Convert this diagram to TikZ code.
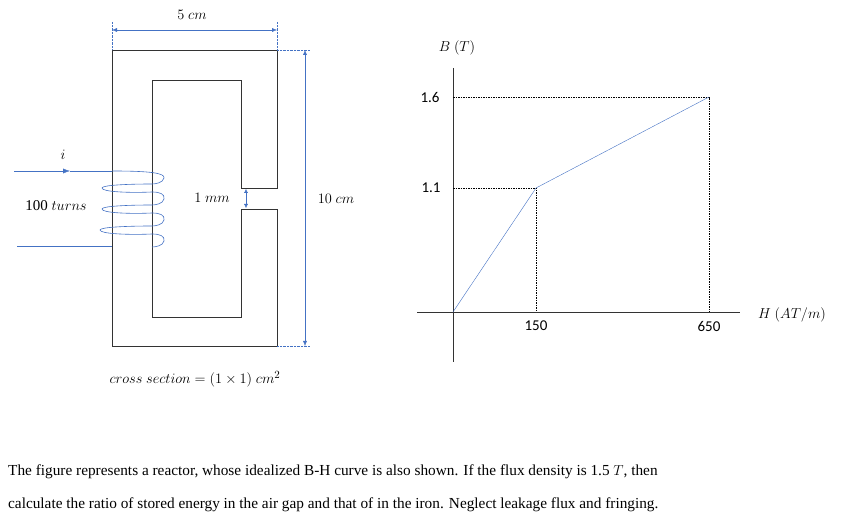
\documentclass[tikz,border=0pt]{standalone}
\usepackage{fontspec}
\setmainfont{Liberation Serif}
\newfontfamily\calfnt{Carlito}
\usetikzlibrary{arrows.meta}
\definecolor{bl}{RGB}{68,114,196}
\tikzset{dim/.style={bl,{Latex[length=5pt,width=4pt]}-{Latex[length=5pt,width=4pt]}},
ext/.style={bl,densely dotted},
lbl/.style={font=\fontsize{15}{18}\selectfont,inner sep=0pt},
num/.style={font=\calfnt\fontsize{15}{18}\selectfont,inner sep=0pt},
dl/.style={black,densely dashed,dash pattern=on 1.5pt off 1pt}}
\begin{document}
\begin{tikzpicture}[x=1pt,y=-1pt]
\useasboundingbox (0,0) rectangle (852,521);
% core
\draw[black!80,line width=0.8pt] (112,50)--(277,50)--(277,188)--(241,188)--(241,80)--(152,80)--(152,317)--(241,317)--(241,209)--(277,209)--(277,346)--(112,346)--cycle;
% dims
\coordinate (a1) at (112,30); \coordinate (a2) at (277,30);
\draw[dim] (a1)--(a2);
\draw[ext] (112,22)--(112,50) (277,22)--(277,50);
\node[lbl] (w) at (192,15) {$5\ cm$};
\coordinate (b1) at (305,50); \coordinate (b2) at (305,346);
\draw[dim] (b1)--(b2);
\draw[ext] (277,50)--(310,50) (277,346)--(310,346);
\node[lbl] (h) at (336,199) {$10\ cm$};
\coordinate (g1) at (246,189); \coordinate (g2) at (246,208);
\draw[bl,{Latex[length=4pt,width=4pt]}-{Latex[length=4pt,width=4pt]}] (g1)--(g2);
\node[lbl] (gap) at (212,198) {$1\ mm$};
% coil
\draw[bl,-{Latex[length=7pt,width=5pt]}] (14,171)--(70,171);
\draw[bl] (70,171)--(112,171);
\node[lbl] (i) at (63,155) {$i$};
\draw[bl,line width=0.6pt] (112,171) .. controls (150,171) and (165,173) .. (164,178) .. controls (163,183) and (155,184) .. (152,184)
 .. controls (130,184) and (102,185) .. (102,188) .. controls (102,192) and (130,193) .. (152,192)
 .. controls (160,192) and (165,194) .. (164,199) .. controls (163,204) and (155,205) .. (152,205)
 .. controls (130,205) and (102,206) .. (102,209) .. controls (102,213) and (130,214) .. (152,213)
 .. controls (160,213) and (165,215) .. (164,220) .. controls (163,225) and (155,226) .. (152,226)
 .. controls (130,226) and (100,227) .. (100,230) .. controls (100,234) and (130,235) .. (152,234)
 .. controls (160,234) and (165,236) .. (164,241) .. controls (163,246) and (155,247) .. (152,247);
\draw[bl] (17,246)--(112,246);
\node[lbl] (turns) at (56,206) {100 $turns$};
\node[lbl] (cs) at (195,379) {$cross\ section=(1\times1)\ cm^2$};
% graph
\coordinate (o) at (453,312);
\draw[black!80] (453,68)--(453,362);
\draw[black!80] (417,312)--(740,312);
\draw[dl] (453,97)--(709,97)--(709,312);
\draw[dl] (453,188)--(536,188)--(536,312);
\draw[bl] (o)--(536,188)--(709,97);
\node[lbl] (B) at (457,48) {$B\ (T)$};
\node[num] (y1) at (430,97) {1.6};
\node[num] (y2) at (431,188) {1.1};
\node[num] (x1) at (536,326) {150};
\node[num] (x2) at (709,326) {650};
\node[lbl] (H) at (792,315) {$H\ (AT/m)$};
% text
\node[anchor=west,inner sep=0pt,font=\fontsize{15.3}{18}\selectfont] (t1) at (8,472) {The figure represents a reactor, whose idealized B-H curve is also shown. If the flux density is 1.5 $T$, then};
\node[anchor=west,inner sep=0pt,font=\fontsize{15.3}{18}\selectfont] (t2) at (8,505) {calculate the ratio of stored energy in the air gap and that of in the iron. Neglect leakage flux and fringing.};
\end{tikzpicture}
\end{document}
